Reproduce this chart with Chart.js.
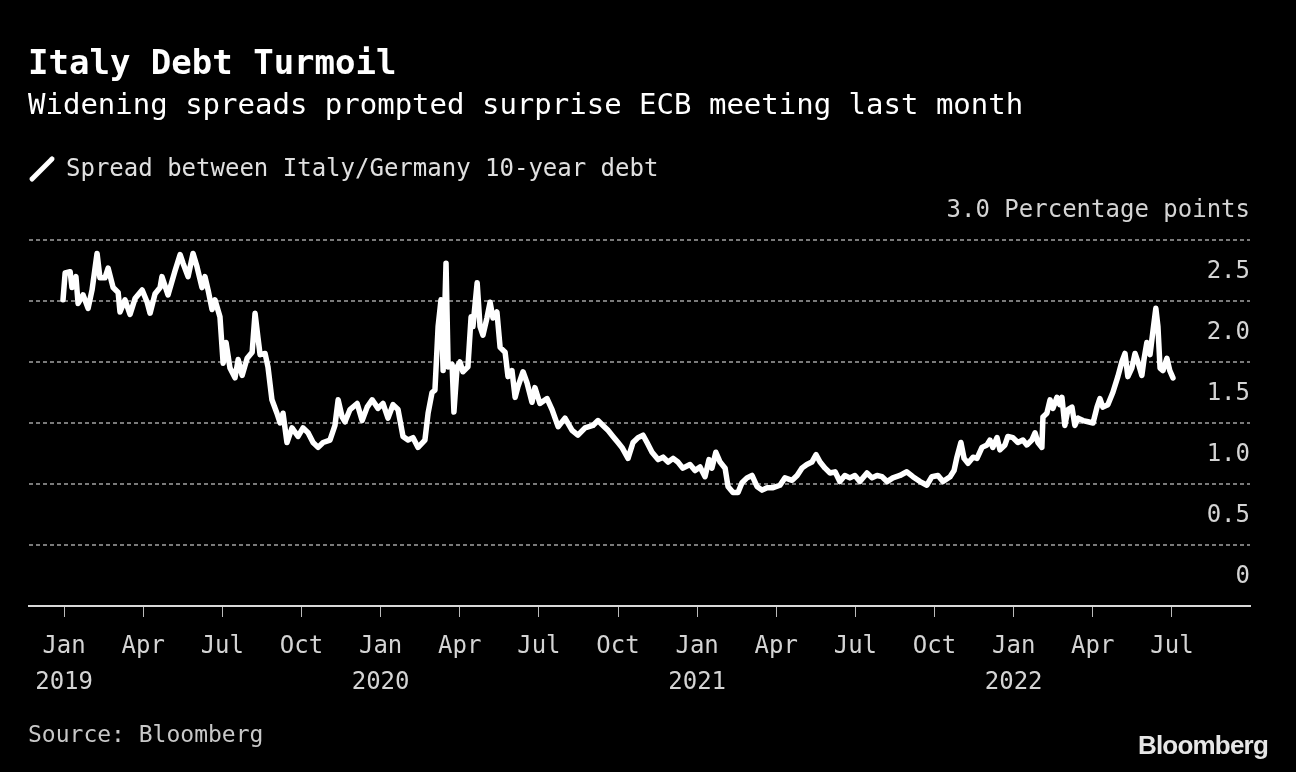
<!DOCTYPE html>
<html>
<head>
<meta charset="utf-8">
<script src="https://cdn.jsdelivr.net/npm/chart.js@4.4.0/dist/chart.umd.min.js"></script>
<style>
  html, body { margin: 0; padding: 0; background: #000; }
  body { width: 1296px; height: 772px; position: relative; overflow: hidden;
         font-family: "DejaVu Sans Mono", monospace; color: #fff; }
  .txt { position: absolute; white-space: nowrap; z-index: 2; }
  #title { left: 28px; top: 45px; font-size: 34px; line-height: 34px; font-weight: bold; }
  #subtitle { left: 28px; top: 90px; font-size: 29px; line-height: 29px; }
  #legend { left: 66px; top: 156px; font-size: 24px; line-height: 24px; color: #e0e0e0; }
  #swatch { position: absolute; left: 28px; top: 155px; z-index: 2; }
  #source { left: 28px; top: 723px; font-size: 23px; line-height: 23px; color: #c8c8c8; }
  #logo { right: 28px; top: 732px; font-family: "Liberation Sans", Arial, sans-serif;
          font-weight: bold; font-size: 26px; line-height: 26px; color: #e6e6e6; letter-spacing: -0.8px; }
  #box { position: absolute; left: 0; top: 0; width: 1296px; height: 772px; }
</style>
</head>
<body>
<div class="txt" id="title">Italy Debt Turmoil</div>
<div class="txt" id="subtitle">Widening spreads prompted surprise ECB meeting last month</div>
<svg id="swatch" width="30" height="30"><line x1="4" y1="24" x2="24" y2="4" stroke="#fff" stroke-width="5" stroke-linecap="round"/></svg>
<div class="txt" id="legend">Spread between Italy/Germany 10-year debt</div>
<div class="txt" id="source">Source: Bloomberg</div>
<div class="txt" id="logo">Bloomberg</div>
<div id="box"><canvas id="chart" width="1296" height="772"></canvas></div>

<script>
// months elapsed since 1 Jan 2019
const months = [
  -0.04, 0.04, 0.23, 0.30, 0.45, 0.53, 0.72, 0.91, 1.06, 1.25, 1.36, 1.55, 1.67, 1.86, 2.05, 2.12,
  2.31, 2.50, 2.69, 2.96, 3.15, 3.26, 3.45, 3.64, 3.71, 3.94, 4.21, 4.40, 4.51, 4.70, 4.89, 5.04,
  5.23, 5.34, 5.46, 5.61, 5.72, 5.91, 6.03, 6.14, 6.29, 6.48, 6.60, 6.75, 6.94, 7.13, 7.24, 7.35,
  7.43, 7.62, 7.73, 7.88, 8.07, 8.19, 8.30, 8.45, 8.64, 8.87, 9.06, 9.25, 9.44, 9.63, 9.82, 10.08,
  10.27, 10.39, 10.54, 10.65, 10.84, 11.11, 11.30, 11.49, 11.68, 11.90, 12.09, 12.28, 12.47, 12.66,
  12.85, 13.04, 13.23, 13.42, 13.68, 13.80, 13.95, 14.06, 14.18, 14.29, 14.37, 14.48, 14.56, 14.71,
  14.78, 14.90, 15.01, 15.12, 15.31, 15.43, 15.50, 15.66, 15.77, 15.88, 16.03, 16.15, 16.26, 16.41,
  16.53, 16.72, 16.83, 16.98, 17.10, 17.21, 17.40, 17.55, 17.74, 17.85, 18.04, 18.31, 18.50, 18.73,
  18.99, 19.26, 19.48, 19.75, 20.05, 20.24, 20.43, 20.62, 20.81, 21.00, 21.15, 21.38, 21.57, 21.76,
  21.95, 22.10, 22.29, 22.52, 22.71, 22.90, 23.09, 23.27, 23.46, 23.73, 23.92, 24.11, 24.30, 24.45,
  24.56, 24.71, 24.87, 25.06, 25.17, 25.36, 25.55, 25.70, 25.89, 26.08, 26.27, 26.46, 26.65, 26.88,
  27.14, 27.33, 27.60, 27.79, 27.97, 28.16, 28.35, 28.51, 28.66, 28.85, 29.04, 29.23, 29.41, 29.60,
  29.79, 29.98, 30.17, 30.44, 30.63, 30.82, 31.01, 31.20, 31.42, 31.69, 31.95, 32.18, 32.45, 32.71,
  32.90, 33.13, 33.32, 33.59, 33.74, 33.85, 34.00, 34.12, 34.27, 34.46, 34.61, 34.80, 34.99, 35.10,
  35.21, 35.37, 35.48, 35.67, 35.78, 35.97, 36.16, 36.35, 36.50, 36.69, 36.81, 36.92, 37.07, 37.11,
  37.26, 37.38, 37.49, 37.64, 37.75, 37.83, 37.94, 38.06, 38.21, 38.32, 38.44, 38.63, 38.82, 39.01,
  39.16, 39.27, 39.38, 39.57, 39.76, 39.95, 40.10, 40.22, 40.33, 40.48, 40.60, 40.71, 40.86, 40.94,
  41.05, 41.17, 41.32, 41.39, 41.47, 41.55, 41.66, 41.81, 41.92, 42.04
];

// Italy/Germany 10-year spread, percentage points
const spread = [
  2.51, 2.73, 2.74, 2.61, 2.70, 2.48, 2.55, 2.44, 2.59, 2.89, 2.69, 2.69, 2.77, 2.61, 2.57, 2.41,
  2.51, 2.39, 2.52, 2.59, 2.49, 2.40, 2.56, 2.61, 2.70, 2.55, 2.75, 2.88, 2.81, 2.70, 2.89, 2.78,
  2.61, 2.70, 2.59, 2.43, 2.51, 2.37, 1.99, 2.16, 1.95, 1.87, 2.02, 1.89, 2.03, 2.08, 2.40, 2.20,
  2.06, 2.07, 1.96, 1.69, 1.58, 1.50, 1.58, 1.34, 1.46, 1.39, 1.46, 1.42, 1.34, 1.30, 1.34, 1.36,
  1.48, 1.69, 1.55, 1.51, 1.61, 1.66, 1.52, 1.63, 1.69, 1.62, 1.66, 1.54, 1.65, 1.61,
  1.39, 1.36, 1.38, 1.30, 1.36, 1.58, 1.75, 1.77, 2.29, 2.51, 1.93, 2.81, 1.96, 1.98,
  1.59, 1.96, 2.00, 1.92, 1.96, 2.37, 2.29, 2.65, 2.29, 2.22, 2.36, 2.49, 2.36, 2.41,
  2.12, 2.08, 1.88, 1.93, 1.71, 1.80, 1.92, 1.83, 1.67, 1.79, 1.66, 1.70, 1.61, 1.47,
  1.54, 1.44, 1.40, 1.46, 1.48, 1.52, 1.48, 1.44, 1.39, 1.34, 1.30, 1.21, 1.34, 1.38,
  1.40, 1.34, 1.26, 1.20, 1.22, 1.18, 1.21, 1.18, 1.13, 1.16, 1.11, 1.14, 1.06, 1.20,
  1.13, 1.26, 1.18, 1.13, 0.98, 0.93, 0.93, 1.01, 1.05, 1.07, 0.98, 0.95, 0.97, 0.97,
  0.99, 1.05, 1.03, 1.07, 1.13, 1.16, 1.18, 1.24, 1.18, 1.13, 1.09, 1.10, 1.02, 1.07,
  1.05, 1.07, 1.02, 1.09, 1.05, 1.07, 1.06, 1.02, 1.05, 1.07, 1.10, 1.06, 1.02, 0.99,
  1.06, 1.07, 1.02, 1.06, 1.11, 1.22, 1.34, 1.21, 1.17, 1.22, 1.21, 1.30, 1.32, 1.36,
  1.30, 1.38, 1.28, 1.32, 1.39, 1.38, 1.34, 1.36, 1.32, 1.36, 1.42, 1.34, 1.30, 1.55,
  1.58, 1.69, 1.62, 1.71, 1.65, 1.71, 1.48, 1.61, 1.63, 1.48, 1.54, 1.52, 1.51, 1.50,
  1.63, 1.70, 1.63, 1.65, 1.75, 1.88, 2.00, 2.07, 1.88, 1.95, 2.07, 2.00, 1.89, 2.02,
  2.16, 2.06, 2.32, 2.44, 2.29, 1.95, 1.93, 2.03, 1.93, 1.87
];

const tickMonths = [0, 3, 6, 9, 12, 15, 18, 21, 24, 27, 30, 33, 36, 39, 42];
const monthNames = ['Jan', 'Apr', 'Jul', 'Oct'];
const yearNames = ['2019', '2020', '2021', '2022'];
const yTicks = [0, 0.5, 1, 1.5, 2, 2.5, 3];
const unitLabel = 'Percentage points';

const points = months.map((m, i) => ({ x: m, y: spread[i] }));

// y labels sit just above their gridlines, right-aligned
const yLabels = {
  id: 'yLabels',
  afterDraw(chart) {
    const ctx = chart.ctx;
    const y = chart.scales.y;
    ctx.save();
    ctx.font = '24px "DejaVu Sans Mono"';
    ctx.fillStyle = '#d4d4d4';
    ctx.textAlign = 'right';
    ctx.textBaseline = 'middle';
    yTicks.forEach(v => {
      let txt = v === 0 ? '0' : v.toFixed(1);
      if (v === 3) txt += ' ' + unitLabel;
      ctx.fillText(txt, chart.chartArea.right, y.getPixelForValue(v) - 29);
    });
    ctx.restore();
  }
};

new Chart(document.getElementById('chart'), {
  type: 'line',
  data: {
    datasets: [{
      data: points,
      borderColor: '#fff',
      borderWidth: 5.5,
      borderJoinStyle: 'round',
      borderCapStyle: 'round',
      pointRadius: 0,
      tension: 0,
      fill: false
    }]
  },
  options: {
    responsive: false,
    animation: false,
    layout: { padding: { left: 29, right: 46, top: 240, bottom: 56 } },
    plugins: { legend: { display: false }, tooltip: { enabled: false } },
    scales: {
      x: {
        type: 'linear',
        min: -1.33,
        max: 44.96,
        afterBuildTicks: s => { s.ticks = tickMonths.map(v => ({ value: v })); },
        afterFit: s => { s.height = 110; },
        grid: { drawOnChartArea: false, drawTicks: true, tickLength: 11, color: '#bbb', lineWidth: 1 },
        border: { display: true, color: '#d8d8d8', width: 2 },
        ticks: {
          autoSkip: false,
          maxRotation: 0,
          padding: 12,
          color: '#d4d4d4',
          font: { family: 'DejaVu Sans Mono', size: 24, lineHeight: 1.5 },
          callback: v => {
            const name = monthNames[(v % 12) / 3];
            return v % 12 === 0 ? [name, yearNames[v / 12]] : name;
          }
        }
      },
      y: {
        position: 'right',
        min: 0,
        max: 3,
        afterBuildTicks: s => { s.ticks = yTicks.map(v => ({ value: v })); },
        afterFit: s => { s.width = 0; },
        grid: {
          drawTicks: false,
          color: c => c.tick && c.tick.value === 0 ? 'rgba(0,0,0,0)' : '#7a7a7a',
          lineWidth: 2
        },
        border: { display: false, dash: [4, 3] },
        ticks: { display: false }
      }
    }
  },
  plugins: [yLabels]
});
</script>
</body>
</html>
